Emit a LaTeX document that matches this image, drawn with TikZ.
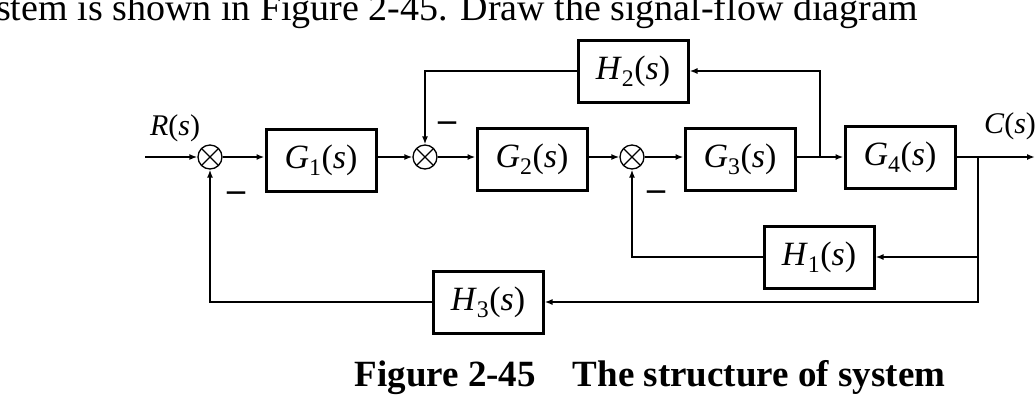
\documentclass[tikz,border=0pt]{standalone}
\usepackage{fontspec}
\setmainfont{Liberation Serif}
\usetikzlibrary{arrows.meta}
\newcommand{\tf}[2]{\textit{#1}\textsubscript{#2}(\textit{s})}
\begin{document}
\begin{tikzpicture}[x=1pt,y=-1pt,
  blk/.style={draw,line width=3pt,minimum width=110pt,minimum height=62pt,inner sep=0pt,font=\fontsize{34}{36}\selectfont},
  sj/.style={draw,circle,line width=1.3pt,minimum size=24pt,inner sep=0pt,path picture={\draw[line width=1.1pt] (path picture bounding box.north west)--(path picture bounding box.south east) (path picture bounding box.north east)--(path picture bounding box.south west);}},
  ln/.style={line width=1.6pt},
  ar/.style={ln,-{Latex[length=8pt,width=6pt]}},
  lab/.style={font=\fontsize{30}{32}\selectfont},
  mn/.style={font=\fontsize{36}{38}\selectfont\bfseries}]
\useasboundingbox (0,0) rectangle (1035,405);
\node[anchor=base west,font=\fontsize{38}{40}\selectfont,inner sep=0pt] (t) at (-4,20) {stem is shown in Figure 2-45. Draw the signal-flow diagram};
\node[sj] (s1) at (210,157) {};
\node[sj] (s2) at (425,157) {};
\node[sj] (s3) at (632,157) {};
\node[blk] (g1) at (321,160) {\tf{G}{1}};
\node[blk] (g2) at (532,159) {\tf{G}{2}};
\node[blk] (g3) at (740,159) {\tf{G}{3}};
\node[blk] (g4) at (900,157) {\tf{G}{4}};
\node[blk] (h2) at (633,71) {\tf{H}{2}};
\node[blk] (h1) at (819,257) {\tf{H}{1}};
\node[blk] (h3) at (488,302) {\tf{H}{3}};
\coordinate (in) at (145,157);
\coordinate (out) at (1035,157);
\coordinate (b1) at (820,157);
\coordinate (b2) at (978,157);
\draw[ar] (in) -- (s1.west);
\draw[ar] (s1.east) -- (g1.west |- s1);
\draw[ar] (g1.east |- s2) -- (s2.west);
\draw[ar] (s2.east) -- (g2.west |- s2);
\draw[ar] (g2.east |- s3) -- (s3.west);
\draw[ar] (s3.east) -- (g3.west |- s3);
\draw[ar] (g3.east |- b1) -- (g4.west);
\draw[ar] (g4.east) -- (out);
\draw[ar] (b1) |- (h2.east);
\draw[ar] (h2.west) -| (s2.north);
\draw[ar] (b2) |- (h1.east);
\draw[ar] (h1.west) -| (s3.south);
\draw[ar] (b2) |- (h3.east);
\draw[ar] (h3.west) -| (s1.south);
\node[lab] (rl) at (175,128) {\textit{R}(\textit{s})};
\node[lab] (cl) at (1010,126) {\textit{C}(\textit{s})};
\node[mn] (m1) at (236,197) {--};
\node[mn] (m2) at (447,127) {--};
\node[mn] (m3) at (656,196) {--};
\node[font=\fontsize{37}{39}\selectfont\bfseries] (cap) at (650,378) {Figure 2-45\quad The structure of system};
\end{tikzpicture}
\end{document}
